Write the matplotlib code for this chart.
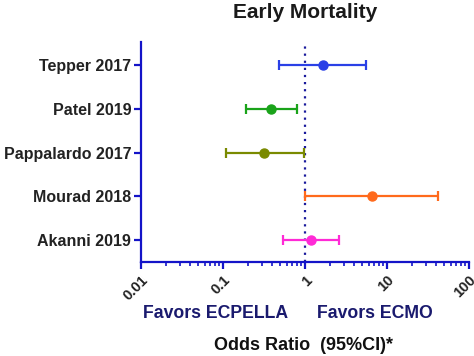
import matplotlib
matplotlib.use("Agg")
import matplotlib.pyplot as plt
import numpy as np
from matplotlib.ticker import LogLocator, NullFormatter, FixedLocator, FixedFormatter

plt.rcParams['font.family'] = ['Liberation Sans', 'DejaVu Sans']

studies = ["Akanni 2019", "Mourad 2018", "Pappalardo 2017", "Patel 2019", "Tepper 2017"]
odds_ratio = [1.18, 6.6, 0.32, 0.385, 1.66]
ci_low = [0.54, 1.01, 0.109, 0.19, 0.48]
ci_high = [2.6, 42.0, 0.98, 0.80, 5.55]
colors = ["#ff2ad6", "#ff6a1c", "#7a8a00", "#1aa31a", "#2a40e6"]
xticks = [0.01, 0.1, 1, 10, 100]
xticklabels = ["0.01", "0.1", "1", "10", "100"]

fig = plt.figure(figsize=(4.74, 3.56), dpi=100)
ax = fig.add_axes([0.2975, 0.264, 0.6915, 0.618])

axis_color = "#1414c8"
for i, (s, m, lo, hi, c) in enumerate(zip(studies, odds_ratio, ci_low, ci_high, colors)):
    ax.errorbar([m], [i], xerr=[[m - lo], [hi - m]], fmt='o', color=c, ecolor=c,
                markersize=6.5, elinewidth=1.6, capsize=3.6, capthick=1.6, zorder=3)

ax.axvline(1, color="#1a1a9c", linestyle=(0, (1, 2.2)), linewidth=1.6, zorder=2)

ax.set_xscale('log')
ax.set_xlim(0.01, 100)
ax.set_ylim(-0.5, 4.53)

ax.xaxis.set_major_locator(FixedLocator(xticks))
ax.xaxis.set_major_formatter(FixedFormatter(xticklabels))
ax.xaxis.set_minor_locator(LogLocator(base=10, subs=np.arange(2, 10)))
ax.xaxis.set_minor_formatter(NullFormatter())
ax.set_yticks(range(len(studies)))
ax.set_yticklabels(studies)

for sp in ['top', 'right']:
    ax.spines[sp].set_visible(False)
for sp in ['left', 'bottom']:
    ax.spines[sp].set_color(axis_color)
    ax.spines[sp].set_linewidth(1.6)

ax.tick_params(axis='both', which='major', color=axis_color, width=1.6, length=5, direction='out')
ax.tick_params(axis='x', which='minor', color=axis_color, width=1.2, length=3, direction='out')
ax.tick_params(axis='y', labelsize=11.5, labelcolor="#222222", pad=2)
ax.tick_params(axis='x', labelsize=10.5, labelcolor="#222222", pad=3)
for lab in ax.get_yticklabels():
    lab.set_fontweight('bold')
for lab in ax.get_xticklabels():
    lab.set_fontweight('bold')
    lab.set_rotation(45)
    lab.set_ha('right')
    lab.set_va('top')
    lab.set_rotation_mode('anchor')

fig.text(305 / 474, 1 - 12 / 356, "Early Mortality", ha='center', va='center',
         fontsize=15, fontweight='bold', color="#1a1a1a")
fig.text(216 / 474, 1 - 313 / 356, "Favors ECPELLA", ha='center', va='center',
         fontsize=12.7, fontweight='bold', color="#1a1a6e")
fig.text(375 / 474, 1 - 313 / 356, "Favors ECMO", ha='center', va='center',
         fontsize=12.7, fontweight='bold', color="#1a1a6e")
fig.text(303 / 474, 1 - 345 / 356, "Odds Ratio  (95%CI)*", ha='center', va='center',
         fontsize=13, fontweight='bold', color="#111111")

fig.savefig("out.png", dpi=100)
